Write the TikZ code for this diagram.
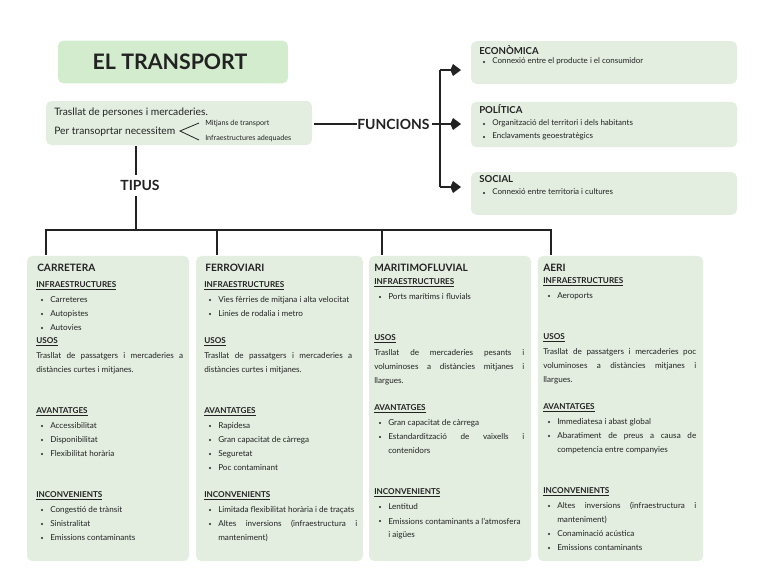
\documentclass[tikz,border=0pt]{standalone}
\usepackage{fontspec}
\setmainfont{Lato}
\usetikzlibrary{arrows.meta}
\definecolor{card}{HTML}{E3EEE0}
\definecolor{ttl}{HTML}{D3ECCD}
\definecolor{ink}{HTML}{222222}
\newcommand{\jl}[2]{\makebox[#1][s]{#2}}
\begin{document}
\begin{tikzpicture}[x=0.75pt,y=-0.75pt,
  box/.style={fill=card,rounded corners=4pt,draw=none},
  t/.style={anchor=west,inner sep=0,text=ink,font=\fontsize{6.1}{7}\selectfont},
  ft/.style={anchor=west,inner sep=0,text=ink,font=\fontsize{6}{7}\selectfont},
  hd/.style={anchor=west,inner sep=0,text=ink,font=\fontsize{6.1}{7}\bfseries\selectfont},
  fh/.style={anchor=west,inner sep=0,text=ink,font=\fontsize{7.2}{8}\bfseries\selectfont},
  ct/.style={anchor=west,inner sep=0,text=ink,font=\fontsize{7.6}{8}\bfseries\selectfont},
  bl/.style={circle,fill=ink,inner sep=0,minimum size=1.8pt},
  ln/.style={line width=2.2pt,draw=ink},
  ar/.style={line width=2.2pt,draw=ink,-{Kite[length=8pt,width=9pt]}}]
\useasboundingbox (0,0) rectangle (768,576);
% title
\node[box,fill=ttl,minimum width=172.5pt,minimum height=32pt] (title) at (173,62) {};
\node[inner sep=0,text=ink,font=\fontsize{16}{18}\bfseries\selectfont] (titletxt) at (170,62) {EL TRANSPORT};
% description
\node[box,minimum width=199.5pt,minimum height=33pt] (desc) at (179,123) {};
\node[inner sep=0,anchor=west,text=ink,font=\fontsize{7.7}{8}\selectfont] (d1) at (54,113) {Trasllat de persones i mercaderies.};
\node[inner sep=0,anchor=west,text=ink,font=\fontsize{7.7}{8}\selectfont] (d2) at (54,132) {Per transoprtar necessitem};
\coordinate (v) at (180,131);
\coordinate (va) at (199,123);
\coordinate (vb) at (199,140);
\draw[ink,line width=0.6pt] (va) -- (v) -- (vb);
\node[t,font=\fontsize{5.4}{6}\selectfont] (d3) at (205,123) {Mitjans de transport};
\node[t,font=\fontsize{5.4}{6}\selectfont] (d4) at (205,138) {Infraestructures adequades};
% funcions
\node[inner sep=0,anchor=west,text=ink,font=\fontsize{10.5}{12}\bfseries\selectfont] (fun) at (357,124) {FUNCIONS};
\coordinate (de) at (314,124);
\draw[ln] (de) -- (fun.west);
\coordinate (bt) at (440,70);
\coordinate (bb) at (440,187);
\coordinate (bm) at (432,124);
\coordinate (bmm) at (440,124);
\draw[ln] (bm) -- (bmm);
\draw[ln] (bt) -- (bb);
% function boxes
\node[box,minimum width=199.5pt,minimum height=32pt] (eco) at (604,62.5) {};
\node[box,minimum width=199.5pt,minimum height=34pt] (pol) at (604,124.5) {};
\node[box,minimum width=199.5pt,minimum height=32pt] (soc) at (604,193.5) {};
\coordinate (ea) at (461,70); \coordinate (pa) at (461,124); \coordinate (sa) at (461,187);
\draw[ar] (bt) -- (ea);
\draw[ar] (bmm) -- (pa);
\draw[ar] (bb) -- (sa);
\node[fh] (ecot) at (479,50) {ECONÒMICA};
\node[bl] (eb1) at (484,62) {}; \node[ft] (e1) at (492,61) {Connexió entre el producte i el consumidor};
\node[fh] (polt) at (479,109) {POLÍTICA};
\node[bl] (pb1) at (484,124) {}; \node[ft] (p1) at (492,123) {Organització del territori i dels habitants};
\node[bl] (pb2) at (484,137) {}; \node[ft] (p2) at (492,136) {Enclavaments geoestratègics};
\node[fh] (soct) at (479,179) {SOCIAL};
\node[bl] (sb1) at (484,193) {}; \node[ft] (s1) at (492,192) {Connexió entre territoria i cultures};
% tipus
\node[inner sep=0,text=ink,font=\fontsize{10.5}{12}\bfseries\selectfont] (tip) at (140,185) {TIPUS};
\coordinate (hl) at (46,230); \coordinate (hr) at (551,230); \coordinate (hm) at (136,230);
\draw[ln] (136,146) -- (136,175);
\draw[ln] (136,196) -- (hm);
\draw[ln] ([xshift=-1]hl) -- ([xshift=1]hr);
\foreach \x/\n in {46/a,217/b,382/c,551/d} \draw[ln] (\x,229) -- (\x,255);
% cards
\node[box,minimum width=121.5pt,minimum height=229pt] (c1) at (108,408.5) {};
\node[box,minimum width=125pt,minimum height=229pt] (c2) at (279.5,408.5) {};
\node[box,minimum width=121.5pt,minimum height=229pt] (c3) at (450,408.5) {};
\node[box,minimum width=124pt,minimum height=229pt] (c4) at (620.5,408.5) {};
% card 1
\node[ct] (c1t) at (37,268) {CARRETERA};
\node[hd] (c1h1) at (36,286) {\underline{INFRAESTRUCTURES}};
\foreach \y/\s [count=\i] in {300/Carreteres,314/Autopistes,328/Autovies}{\node[bl] (c1b\i) at (42,\y) {}; \node[t] (c1i\i) at (50,\y) {\s};}
\node[hd] (c1h2) at (36,342) {\underline{USOS}};
\node[t] (c1u1) at (36,356) {\jl{147\dimexpr0.75pt}{Trasllat de passatgers i mercaderies a}};
\node[t] (c1u2) at (36,370) {distàncies curtes i mitjanes.};
\node[hd] (c1h3) at (36,412) {\underline{AVANTATGES}};
\foreach \y/\s [count=\i] in {426/Accessibilitat,440/Disponibilitat,454/Flexibilitat horària}{\node[bl] (c1a\i) at (42,\y) {}; \node[t] (c1v\i) at (50,\y) {\s};}
\node[hd] (c1h4) at (36,496) {\underline{INCONVENIENTS}};
\foreach \y/\s [count=\i] in {510/Congestió de trànsit,524/Sinistralitat,538/Emissions contaminants}{\node[bl] (c1c\i) at (42,\y) {}; \node[t] (c1n\i) at (50,\y) {\s};}
% card 2
\node[ct] (c2t) at (205,268) {FERROVIARI};
\node[hd] (c2h1) at (204,286) {\underline{INFRAESTRUCTURES}};
\foreach \y/\s [count=\i] in {300/Vies fèrries de mitjana i alta velocitat,314/Linies de rodalia i metro}{\node[bl] (c2b\i) at (210,\y) {}; \node[t] (c2i\i) at (218,\y) {\s};}
\node[hd] (c2h2) at (204,342) {\underline{USOS}};
\node[t] (c2u1) at (204,356) {\jl{148\dimexpr0.75pt}{Trasllat de passatgers i mercaderies a}};
\node[t] (c2u2) at (204,370) {distàncies curtes i mitjanes.};
\node[hd] (c2h3) at (204,412) {\underline{AVANTATGES}};
\foreach \y/\s [count=\i] in {426/Rapidesa,440/Gran capacitat de càrrega,454/Seguretat,468/Poc contaminant}{\node[bl] (c2a\i) at (210,\y) {}; \node[t] (c2v\i) at (218,\y) {\s};}
\node[hd] (c2h4) at (204,496) {\underline{INCONVENIENTS}};
\node[bl] (c2c1) at (210,510) {}; \node[t] (c2n1) at (218,510) {Limitada flexibilitat horària i de traçats};
\node[bl] (c2c2) at (210,524) {}; \node[t] (c2n2) at (218,524) {\jl{139\dimexpr0.75pt}{Altes inversions (infraestructura i}};
\node[t] (c2n3) at (218,538) {manteniment)};
% card 3
\node[ct] (c3t) at (374,268) {MARITIMOFLUVIAL};
\node[hd] (c3h1) at (374,283) {\underline{INFRAESTRUCTURES}};
\node[bl] (c3b1) at (380,297) {}; \node[t] (c3i1) at (388,297) {Ports marítims i fluvials};
\node[hd] (c3h2) at (374,339) {\underline{USOS}};
\node[t] (c3u1) at (374,353) {\jl{150\dimexpr0.75pt}{Trasllat de mercaderies pesants i}};
\node[t] (c3u2) at (374,367) {\jl{150\dimexpr0.75pt}{voluminoses a distàncies mitjanes i}};
\node[t] (c3u3) at (374,381) {llargues.};
\node[hd] (c3h3) at (374,409) {\underline{AVANTATGES}};
\node[bl] (c3a1) at (380,423) {}; \node[t] (c3v1) at (388,423) {Gran capacitat de càrrega};
\node[bl] (c3a2) at (380,437) {}; \node[t] (c3v2) at (388,437) {\jl{136\dimexpr0.75pt}{Estandardització de vaixells i}};
\node[t] (c3v3) at (388,451) {contenidors};
\node[hd] (c3h4) at (374,493) {\underline{INCONVENIENTS}};
\node[bl] (c3c1) at (380,507) {}; \node[t] (c3n1) at (388,507) {Lentitud};
\node[bl] (c3c2) at (380,521) {}; \node[t] (c3n2) at (388,521) {Emissions contaminants a l’atmosfera};
\node[t] (c3n3) at (388,535) {i aigües};
% card 4
\node[ct] (c4t) at (543,268) {AERI};
\node[hd] (c4h1) at (543,282) {\underline{INFRAESTRUCTURES}};
\node[bl] (c4b1) at (549,296) {}; \node[t] (c4i1) at (557,296) {Aeroports};
\node[hd] (c4h2) at (543,338) {\underline{USOS}};
\node[t] (c4u1) at (543,352) {\jl{153\dimexpr0.75pt}{Trasllat de passatgers i mercaderies poc}};
\node[t] (c4u2) at (543,366) {\jl{153\dimexpr0.75pt}{voluminoses a distàncies mitjanes i}};
\node[t] (c4u3) at (543,380) {llargues.};
\node[hd] (c4h3) at (543,408) {\underline{AVANTATGES}};
\node[bl] (c4a1) at (549,422) {}; \node[t] (c4v1) at (557,422) {Immediatesa i abast global};
\node[bl] (c4a2) at (549,436) {}; \node[t] (c4v2) at (557,436) {\jl{139\dimexpr0.75pt}{Abaratiment de preus a causa de}};
\node[t] (c4v3) at (557,450) {competencia entre companyies};
\node[hd] (c4h4) at (543,492) {\underline{INCONVENIENTS}};
\node[bl] (c4c1) at (549,506) {}; \node[t] (c4n1) at (557,506) {\jl{139\dimexpr0.75pt}{Altes inversions (infraestructura i}};
\node[t] (c4n2) at (557,520) {manteniment)};
\node[bl] (c4c2) at (549,534) {}; \node[t] (c4n3) at (557,534) {Conaminació acústica};
\node[bl] (c4c3) at (549,548) {}; \node[t] (c4n4) at (557,548) {Emissions contaminants};
\end{tikzpicture}
\end{document}
